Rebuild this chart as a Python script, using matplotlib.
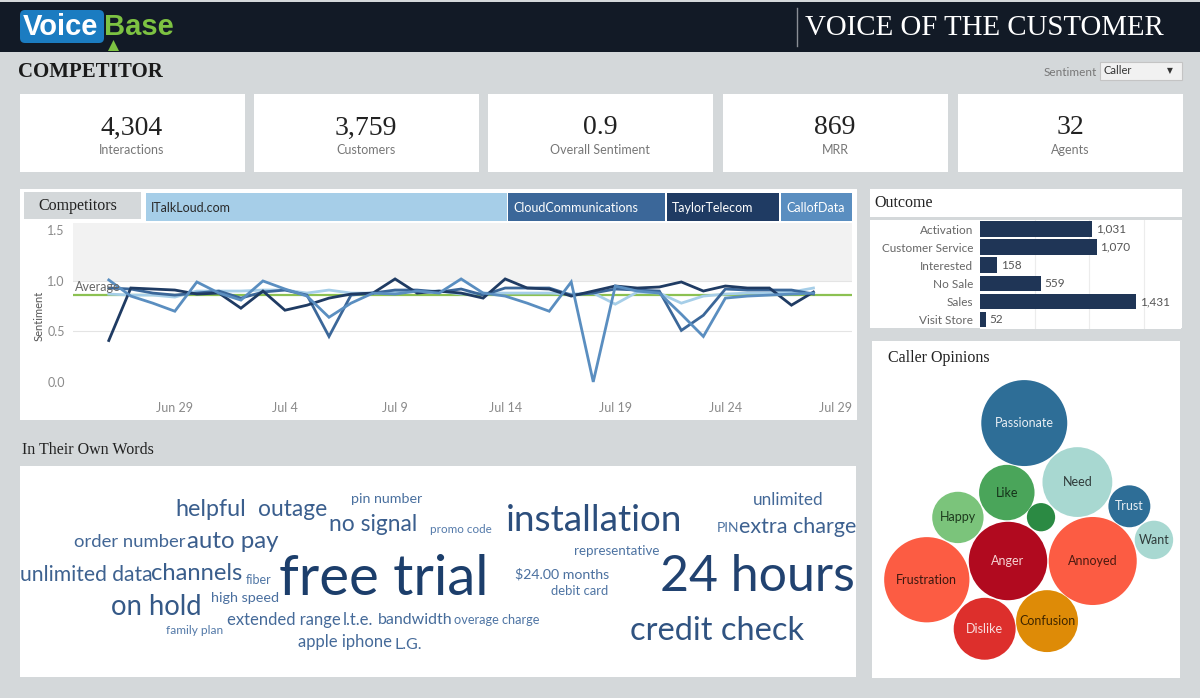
import matplotlib
matplotlib.use("Agg")
import matplotlib.pyplot as plt
import matplotlib.dates as mdates
import matplotlib.transforms as mtrans
from matplotlib.patches import Rectangle, FancyBboxPatch, Circle, Polygon
import matplotlib.colors as mcolors
import numpy as np
import pandas as pd

W, H = 1200, 698
SANS = ["Lato", "DejaVu Sans"]
SERIF = ["Liberation Serif", "DejaVu Serif"]
plt.rcParams["font.family"] = SANS

# ---- data ----
kpi_values = ["4,304", "3,759", "0.9", "869", "32"]
kpi_labels = ["Interactions", "Customers", "Overall Sentiment", "MRR", "Agents"]

competitors = ["ITalkLoud.com", "CloudCommunications", "TaylorTelecom", "CallofData"]
days = pd.date_range("2017-06-26", "2017-07-28", freq="D")
sent_italk = [0.87, 0.86, 0.86, 0.84, 0.90, 0.90, 0.90, 0.91, 0.91, 0.88, 0.91, 0.88, 0.88, 0.89, 0.90, 0.90, 0.87,
              0.88, 0.88, 0.88, 0.88, 0.87, 0.88, 0.77, 0.89, 0.88, 0.78, 0.85, 0.87, 0.88, 0.88, 0.89, 0.93]
sent_cloud = [0.93, 0.92, 0.88, 0.86, 0.88, 0.90, 0.83, 0.89, 0.91, 0.86, 0.45, 0.86, 0.88, 0.91, 0.91, 0.89, 0.92,
              0.86, 0.93, 0.93, 0.93, 0.86, 0.88, 0.92, 0.91, 0.90, 0.51, 0.66, 0.92, 0.91, 0.91, 0.91, 0.87]
sent_taylor = [0.41, 0.93, 0.92, 0.91, 0.87, 0.88, 0.73, 0.90, 0.71, 0.76, 0.83, 0.87, 0.88, 1.02, 0.88, 0.90, 0.88,
               0.83, 1.02, 0.93, 0.92, 0.85, 0.90, 0.95, 0.93, 0.94, 0.99, 0.90, 0.95, 0.93, 0.93, 0.76, 0.89]
sent_callof = [1.01, 0.85, 0.78, 0.70, 0.99, 0.88, 0.81, 1.00, 0.92, 0.85, 0.64, 0.78, 0.88, 0.87, 0.90, 0.88, 1.02,
               0.88, 0.85, 0.78, 0.70, 0.99, 0.00, 0.95, 0.90, 0.88, 0.67, 0.45, 0.83, 0.85, 0.86, 0.87, 0.88]
avg_sentiment = 0.86

outcomes = ["Activation", "Customer Service", "Interested", "No Sale", "Sales", "Visit Store"]
outcome_counts = [1031, 1070, 158, 559, 1431, 52]

opinions = ["Passionate", "Need", "Like", "Trust", "Want", "Happy", "Satisfied",
            "Anger", "Annoyed", "Frustration", "Dislike", "Confusion"]
opinion_counts = [185, 122, 77, 44, 37, 66, 20, 154, 194, 182, 96, 96]

words = ["helpful", "outage", "pin number", "no signal", "promo code", "installation", "unlimited", "PIN",
         "extra charge", "order number", "auto pay", "representative", "unlimited data", "channels", "fiber",
         "free trial", "$24.00 months", "24 hours", "debit card", "on hold", "high speed", "extended range",
         "l.t.e.", "bandwidth", "overage charge", "family plan", "apple iphone", "L.G.", "credit check"]
word_counts = [168, 164, 103, 164, 84, 266, 123, 100, 155, 133, 173, 96, 152, 171, 90,
               405, 102, 360, 94, 198, 104, 120, 120, 115, 92, 86, 120, 116, 235]

# ---- layout / styles ----
BG = "#d4d8da"
line_colors = ["#a6cee8", "#3b6799", "#1f3b63", "#5a8ec0"]
legend_spans = [(146, 361), (508, 157), (667, 112), (781, 71)]
legend_text = ["#2a2a2a", "white", "white", "white"]
bubble_colors = ["#2e6e97", "#a8d8d1", "#4aa55a", "#2e6e97", "#a8d8d1", "#7bc47b", "#2b8a43",
                 "#b10a1f", "#fc5c43", "#fc5c43", "#dd2f2c", "#de8b07"]
bubble_text = ["#e8eef4", "#2f3b3a", "#15321a", "#e8eef4", "#2f3b3a", "#1d3a1d", "#ffffff",
               "#f6d3d3", "#4a1a10", "#3a1810", "#f8dede", "#3f2600"]
# packing: (bubble, parent, angle in degrees)
bubble_layout = [("Anger", None, 0), ("Annoyed", "Anger", 0), ("Frustration", "Anger", 193),
                 ("Dislike", "Anger", 251), ("Confusion", "Anger", 303), ("Happy", "Anger", 139),
                 ("Like", "Anger", 91), ("Satisfied", "Anger", 53), ("Need", "Annoyed", 101),
                 ("Passionate", "Need", 132), ("Trust", "Need", 335), ("Want", "Annoyed", 19)]
word_xy = [(211, 508), (293, 508), (387, 498), (373, 523), (461, 529), (594, 518), (788, 499), (728, 527),
           (798, 525), (130, 541), (233, 540), (617, 550), (86, 573), (197, 572), (259, 579),
           (384, 575), (562, 573), (757, 573), (580, 590), (156, 605), (245, 597), (284, 619),
           (358, 619), (415, 619), (497, 619), (195, 630), (345, 641), (408, 644), (717, 628)]

fig = plt.figure(figsize=(12, 6.98), dpi=100)
fig.patch.set_facecolor(BG)
bg = fig.add_axes([0, 0, 1, 1])
bg.set_xlim(0, W)
bg.set_ylim(H, 0)
bg.axis("off")


def px_axes(x, y, w, h):
    return fig.add_axes([x / W, 1 - (y + h) / H, w / W, h / H])


def panel(x, y, w, h, color="white"):
    bg.add_patch(Rectangle((x, y), w, h, facecolor=color, edgecolor="none"))


# header
bg.add_patch(Rectangle((0, 2), W, 50, facecolor="#121a26", edgecolor="none"))
bg.add_patch(FancyBboxPatch((20, 10), 84, 33, boxstyle="round,pad=0,rounding_size=5",
                            facecolor="#1b7cc1", edgecolor="none"))
bg.add_patch(Polygon([(108, 51), (119, 51), (113.5, 40)], facecolor="#7dc242", edgecolor="none"))
bg.text(23, 27, "Voice", color="white", fontsize=21, fontweight="bold", family="Liberation Sans",
        va="center", ha="left")
bg.text(104, 27, "Base", color="#7dc242", fontsize=21, fontweight="bold", family="Liberation Sans",
        va="center", ha="left")
bg.plot([797, 797], [8, 46], color="#8a8f96", lw=1)
bg.text(805, 28, "VOICE OF THE CUSTOMER", color="white", fontsize=20.8, family=SERIF, va="center", ha="left")

bg.text(18, 72, "COMPETITOR", color="#1a1a1a", fontsize=15, fontweight="bold", family=SERIF, va="center")
bg.text(1097, 72, "Sentiment", color="#777777", fontsize=8.5, ha="right", va="center")
bg.add_patch(Rectangle((1100, 62), 82, 18, facecolor="#f1f1f1", edgecolor="#c4c4c4", lw=0.8))
bg.text(1104, 71, "Caller", color="#333333", fontsize=8, va="center")
bg.text(1170, 71, "▼", color="#333333", fontsize=5.5, va="center", ha="center", family=["DejaVu Sans"])

# KPI cards
card_x = [20, 254, 488, 723, 958]
for cx, val, lab in zip(card_x, kpi_values, kpi_labels):
    panel(cx, 94, 225, 78)
    bg.text(cx + 112, 128, val, fontsize=20, family=SERIF, color="#222222", ha="center", va="center")
    bg.text(cx + 112, 150, lab, fontsize=9, color="#777777", ha="center", va="center")

# ---- competitors line chart ----
panel(20, 189, 837, 231)
bg.add_patch(Rectangle((24, 192), 117, 27, facecolor=BG, edgecolor="none"))
bg.text(38, 206, "Competitors", fontsize=11.5, family=SERIF, color="#222222", va="center")
for (lx, lw), name, col, tc in zip(legend_spans, competitors, line_colors, legend_text):
    bg.add_patch(Rectangle((lx, 193), lw, 28, facecolor=col, edgecolor="none"))
    bg.text(lx + 5, 208, name, fontsize=9, color=tc, va="center")

ax = px_axes(73, 223, 779, 169)
ax.set_facecolor("white")
ax.axhspan(1.0, 1.6, color="#f2f2f2", zorder=0, lw=0)
for gy in (0.5, 1.0):
    ax.axhline(gy, color="#e4e4e4", lw=0.8, zorder=1)
ax.axhline(avg_sentiment, color="#8cc152", lw=1.6, zorder=2)
for series, col in zip([sent_italk, sent_cloud, sent_taylor, sent_callof], line_colors):
    ax.plot(days, series, color=col, lw=2.0, zorder=3, solid_joinstyle="miter")
ax.set_ylim(-0.1, 1.574)
ax.set_xlim(pd.Timestamp("2017-06-24 09:00"), pd.Timestamp("2017-07-29 18:00"))
ax.set_yticks([0, 0.5, 1.0, 1.5])
ax.set_yticklabels(["0.0", "0.5", "1.0", "1.5"])
ax.set_xticks(pd.date_range("2017-06-29", "2017-07-29", freq="5D"))
ax.xaxis.set_major_formatter(mdates.DateFormatter("%b %-d"))
ax.tick_params(length=0, labelsize=9, labelcolor="#8a8a8a")
ax.tick_params(axis="x", pad=7)
ax.tick_params(axis="y", pad=6)
for s in ax.spines.values():
    s.set_visible(False)
ax.set_ylabel("Sentiment", fontsize=8, color="#555555")
ax.yaxis.set_label_coords(-0.037, 0.45)
trans = mtrans.blended_transform_factory(ax.transAxes, ax.transData)
ax.text(0.003, avg_sentiment + 0.02, "Average", transform=trans, fontsize=9, color="#666666", va="bottom")

# ---- outcome bars ----
panel(870, 189, 312, 28)
bg.text(874, 203, "Outcome", fontsize=11.5, family=SERIF, color="#222222", va="center")
panel(870, 220, 312, 108)
bx = px_axes(980, 220, 201, 108.6)
bx.set_facecolor("white")
ypos = np.arange(len(outcomes))
for gx in (500, 1000, 1500):
    bx.axvline(gx, color="#ececec", lw=0.8, zorder=0)
bx.barh(ypos, outcome_counts, height=0.86, color="#1f3556", zorder=2)
for yy, v in zip(ypos, outcome_counts):
    bx.text(v + 35, yy, f"{v:,}", va="center", fontsize=8.5, color="#555555")
bx.set_xlim(0, 1844)
bx.set_ylim(5.5, -0.5)
bx.set_yticks(ypos)
bx.set_yticklabels(outcomes)
bx.set_xticks([])
bx.tick_params(length=0, labelsize=8.5, labelcolor="#666666", pad=5)
for s in bx.spines.values():
    s.set_visible(False)

# ---- caller opinions bubbles ----
panel(872, 341, 308, 337)
bg.text(888, 358, "Caller Opinions", fontsize=11.5, family=SERIF, color="#222222", va="center")
cx_ax = px_axes(872, 341, 308, 337)
cx_ax.set_xlim(872, 1180)
cx_ax.set_ylim(678, 341)
cx_ax.axis("off")
radius = {n: 3.16 * np.sqrt(c) for n, c in zip(opinions, opinion_counts)}
centers = {}
for name, parent, ang in bubble_layout:
    if parent is None:
        centers[name] = (1008.0, 561.0)
        continue
    px_, py_ = centers[parent]
    d = radius[parent] + radius[name] + 1.5
    a = np.radians(ang)
    centers[name] = (px_ + d * np.cos(a), py_ - d * np.sin(a))
for name, col, tc in zip(opinions, bubble_colors, bubble_text):
    x0, y0 = centers[name]
    cx_ax.add_patch(Circle((x0, y0), radius[name], facecolor=col, edgecolor="none"))
    if radius[name] > 18:
        cx_ax.text(x0, y0, name, fontsize=9, color=tc, ha="center", va="center")

# ---- word cloud ----
bg.text(22, 450, "In Their Own Words", fontsize=11.5, family=SERIF, color="#222222", va="center")
panel(20, 466, 836, 211)
c_small = np.array(mcolors.to_rgb("#5b82b2"))
c_big = np.array(mcolors.to_rgb("#1c3d6a"))
for w, cnt, (wx, wy) in zip(words, word_counts, word_xy):
    fs = cnt / 10.0
    t = min(1.0, max(0.0, (fs - 8) / 33.0)) ** 0.5
    col = c_small + (c_big - c_small) * t
    bg.text(wx, wy + 0.08 * fs * 1.389, w, fontsize=fs, color=col, ha="center", va="center")

fig.savefig("out.png", dpi=100)
